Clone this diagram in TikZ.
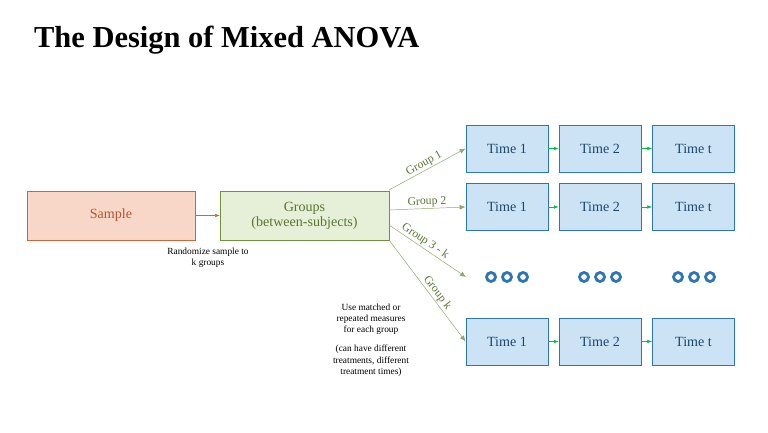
\documentclass[tikz,border=0pt]{standalone}
\usepackage{fontspec}
\setmainfont{Liberation Serif}
\usetikzlibrary{positioning,arrows.meta}
\definecolor{samplefill}{HTML}{F8D7C9}
\definecolor{sampledraw}{HTML}{D0643A}
\definecolor{grpfill}{HTML}{E6F0D8}
\definecolor{grpdraw}{HTML}{70913E}
\definecolor{timefill}{HTML}{CCE3F5}
\definecolor{timedraw}{HTML}{2E75B6}
\tikzset{
    sample/.style={
    rectangle,draw=sampledraw,fill=samplefill,text=sampledraw!85!black,minimum width=168*0.03cm,minimum height=49*0.03cm,font=\fontsize{12}{14}\selectfont
    },
    groups/.style={
    rectangle,draw=grpdraw,fill=grpfill,text=grpdraw!80!black,minimum width=169*0.03cm,minimum height=49*0.03cm,font=\fontsize{12}{13}\selectfont,align=center
    },
    timebox/.style={
    rectangle,draw=timedraw,thick,fill=timefill,text=timedraw!60!black,minimum width=82*0.03cm,minimum height=47*0.03cm,font=\fontsize{12}{14}\selectfont
    },
    dot/.style={
    circle,draw=timedraw,line width=2.4pt,fill=white,minimum size=9*0.03cm,inner sep=0pt
    },
    garrow/.style={
    draw=grpdraw!80,-{Latex[length=5pt,width=4pt]}
    },
    glabel/.style={
    font=\fontsize{10}{12}\selectfont,text=grpdraw!80!black,sloped,above,inner sep=1pt
    },
    tarrow/.style={
    draw=green!50!teal,-{Latex[length=4pt,width=3pt]}
    },
    note/.style={
    font=\fontsize{8}{9.5}\selectfont,align=center
    },
}
\begin{document}
\begin{tikzpicture}[x=0.03cm,y=-0.03cm]
  \useasboundingbox (0,0) rectangle (768,433);
  \node[anchor=west,font=\fontsize{26}{30}\selectfont\bfseries] (title) at (30,40) {The Design of Mixed ANOVA};
  \node[sample] (sample) at (111,215.5) {Sample};
  \node[groups] (groups) at (304.5,215.5) {Groups\\(between-subjects)};
  \draw[draw=sampledraw,-{Latex[length=4pt,width=3pt]}] (sample) -- (groups);
  \node[note] (rand) at (208,258) {Randomize sample to\\k groups};
  \node[note] (match) at (371,340) {Use matched or\\repeated measures\\for each group\\[7pt](can have different\\treatments, different\\treatment times)};
  % time boxes
  \foreach \r/\y in {a/148.5,b/207,k/341.5}{
    \node[timebox] (\r1) at (507,\y) {Time 1};
    \node[timebox] (\r2) at (600,\y) {Time 2};
    \node[timebox] (\r3) at (693.5,\y) {Time t};
    \draw[tarrow] (\r1) -- (\r2);
    \draw[tarrow] (\r2) -- (\r3);
  }
  % dots
  \foreach \c/\x in {1/507,2/600,3/694}{
    \node[dot] (d\c a) at (\x-16,277) {};
    \node[dot] (d\c b) at (\x,277) {};
    \node[dot] (d\c c) at (\x+16,277) {};
  }
  \coordinate (g1) at (389,190);
  \coordinate (g2) at (389,210);
  \coordinate (g3) at (389,225);
  \coordinate (g4) at (389,240);
  \coordinate (e3) at (466,277);
  \draw[garrow] (g1) -- node[glabel] {Group 1} (a1.west);
  \draw[garrow] (g2) -- node[glabel] {Group 2} (b1.west);
  \draw[garrow] (g3) -- node[glabel,pos=0.42] {Group 3 - k} (e3);
  \draw[garrow] (g4) -- node[glabel,pos=0.56] {Group k} (k1.west);
\end{tikzpicture}
\end{document}
